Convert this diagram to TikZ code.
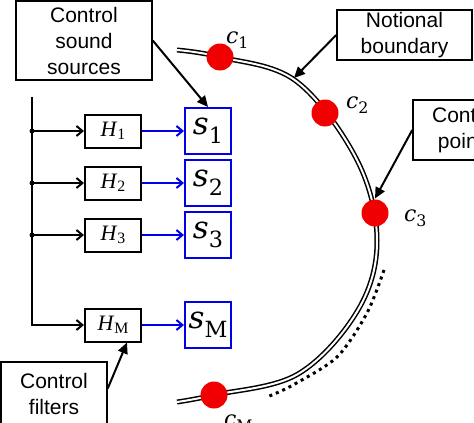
\documentclass[tikz,border=0pt]{standalone}
\usepackage{fontspec}
\newfontfamily\calloutfont{Liberation Sans}
\newfontfamily\filtfont{Liberation Serif}
\newfontfamily\varfont{DejaVu Serif}
\usetikzlibrary{positioning,calc,arrows.meta}
\definecolor{ctrlblue}{RGB}{0,0,235}
\definecolor{ptred}{RGB}{240,0,0}
% italic symbol with an upright subscript
\newcommand{\varsub}[3][0.3em]{\textit{#2}\raisebox{-#1}{\scalebox{0.72}{#3}}}

\begin{document}
\begin{tikzpicture}[x=1pt,y=-1pt,line width=2pt,
  callout/.style={draw,line width=1.5pt,align=center,inner sep=2pt,
    font=\calloutfont\fontsize{21}{26}\selectfont},
  filt/.style={draw,minimum width=56pt,minimum height=33pt,inner sep=0pt,
    font=\filtfont\fontsize{22}{24}\selectfont},
  src/.style={draw=ctrlblue,minimum size=46pt,inner sep=0pt,
    font=\varfont\fontsize{31}{34}\selectfont},
  cpt/.style={circle,fill=ptred,minimum size=27pt,inner sep=0pt},
  clbl/.style={anchor=base west,inner sep=0pt,font=\varfont\fontsize{22}{24}\selectfont},
  feed/.style={-{Straight Barb[length=6pt,width=10pt]}},
  point/.style={-{Triangle[length=11pt,width=10pt]},line width=2pt},
  boundary/.style={double,double distance=2pt,line width=1.5pt}]
\useasboundingbox (0,0) rectangle (474,423);
\clip (0,0) rectangle (474,423);

% callout boxes
\node[callout,minimum width=136pt,minimum height=79pt] (srcbox) at (84,40.5)
      {Control\\sound\\sources};
\node[callout,minimum width=135pt,minimum height=50pt] (notbox) at (404.5,35)
      {Notional\\boundary};
\node[callout,minimum width=106pt,minimum height=60pt] (cpbox)  at (466,130)
      {Control\\points};
\node[callout,minimum width=106pt,minimum height=63pt] (fltbox) at (54,393.5)
      {Control\\filters};

% filters and sources
\foreach \i/\y in {1/131,2/183,3/235} {
  \node[filt] (h\i) at (113,\y) {\varsub[0.15em]{H}{\i}};
  \node[src]  (s\i) at (208,\y) {\varsub{s}{\i}};
  \draw[ctrlblue,feed] (h\i) -- (s\i);
}
\node[filt] (hM) at (113,325) {\varsub[0.15em]{H}{M}};
\node[src]  (sM) at (208,325) {\varsub{s}{M}};
\draw[ctrlblue,feed] (hM) -- (sM);

% input bus
\coordinate (bustop) at (32,97);
\draw[feed] (bustop) |- (hM.west);
\foreach \i in {1,2,3} {
  \fill (bustop |- h\i) circle (2.5pt);
  \draw[feed] (bustop |- h\i) -- (h\i);
}

% notional boundary
\draw[boundary] plot[smooth,tension=0.6] coordinates {(177,50) (220,57) (296,81)
  (357,160) (377,240) (358,310) (298,374) (214,395) (177,402)};
\draw[line width=3pt,dash pattern=on 3pt off 4pt] plot[smooth] coordinates {(384,270)
  (367,313) (337,357) (293,385) (267,397)};
\coordinate (bnd) at (294,78);

% control points
\node[cpt] (c1) at (220,57)  {};
\node[cpt] (c2) at (325,113) {};
\node[cpt] (c3) at (375,213) {};
\node[cpt] (cM) at (214,395) {};
\node[clbl] (c1lbl) at (225,43)  {\varsub[0.25em]{c}{1}};
\node[clbl] (c2lbl) at (345,108) {\varsub[0.25em]{c}{2}};
\node[clbl] (c3lbl) at (403,221) {\varsub[0.25em]{c}{3}};
\node[clbl] (cMlbl) at (223,426) {\varsub[0.25em]{c}{M}};

% pointers
\draw[point] (srcbox.east) -- (s1.north);
\draw[point] (notbox.west) -- (bnd);
\draw[point] (cpbox.west) -- (c3.north);
\draw[point] ([yshift=5pt]fltbox.east) -- ([xshift=14pt]hM.south);
\end{tikzpicture}
\end{document}
